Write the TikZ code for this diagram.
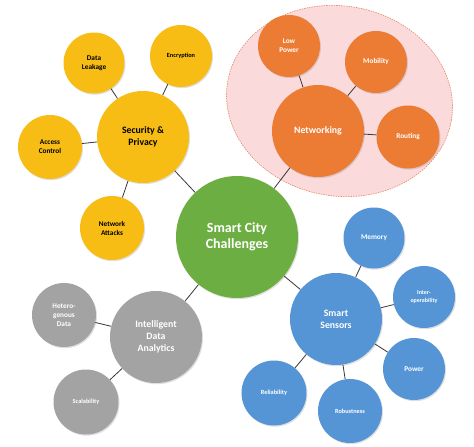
\documentclass[tikz,border=0pt]{standalone}
\usepackage{fontspec}
\setmainfont{Carlito}
\usetikzlibrary{shadows,shapes.geometric}
\definecolor{cyel}{HTML}{F8BD14}
\definecolor{corg}{HTML}{EC7B33}
\definecolor{cgrn}{HTML}{6DAE42}
\definecolor{cblu}{HTML}{5595D6}
\definecolor{cgry}{HTML}{A3A3A3}
\definecolor{cpink}{HTML}{FBDADB}
\definecolor{cpinkb}{HTML}{E58A64}
\definecolor{clink}{HTML}{383838}
\tikzset{
  bub/.style={circle,inner sep=0pt,minimum size=#1,align=center,
    drop shadow={opacity=0.25,shadow xshift=1pt,shadow yshift=-1.2pt}},
  fbig/.style={font=\fontsize{14}{16}\selectfont\bfseries},
  fmid/.style={font=\fontsize{9.8}{12}\selectfont\bfseries},
  fsm/.style={font=\fontsize{7.3}{9}\selectfont\bfseries},
  fxs/.style={font=\fontsize{6.3}{8}\selectfont\bfseries},
  yel/.style={fill=cyel,text=black},
  org/.style={fill=corg,text=white},
  grn/.style={fill=cgrn,text=white},
  blu/.style={fill=cblu,text=white},
  gry/.style={fill=cgry,text=white},
  link/.style={draw=clink,line width=0.8pt}
}
\begin{document}
\begin{tikzpicture}[x=1pt,y=-1pt]
\useasboundingbox[fill=white] (0,0) rectangle (474,447);
% networking group background
\node[ellipse,draw=cpinkb,fill=cpink,line width=0.6pt,dash pattern=on 1.5pt off 1pt,
  minimum width=227pt,minimum height=190pt,inner sep=0pt,rotate=-10] (grp) at (339.5,101) {};
% centre
\node[bub=122pt,grn,fbig] (c) at (237,237) {Smart City\\Challenges};
% security
\node[bub=92pt,yel,fmid] (sec) at (143,137) {Security \&\\Privacy};
\node[bub=61pt,yel,fsm] (dl) at (94,63) {Data\\Leakage};
\node[bub=62pt,yel,fxs] (enc) at (181,56) {Encryption};
\node[bub=64pt,yel,fsm] (ac) at (50,147) {Access\\Control};
\node[bub=64pt,yel,fsm] (na) at (112,228) {Network\\Attacks};
% networking
\node[bub=92pt,org,fmid] (net) at (318,131) {Networking};
\node[bub=62pt,org,fsm] (lp) at (289,46) {Low\\Power};
\node[bub=62pt,org,fsm] (mob) at (376,62) {Mobility};
\node[bub=63pt,org,fsm] (rout) at (408,137) {Routing};
% analytics
\node[bub=92pt,gry,fmid] (ida) at (156,337) {Intelligent\\Data\\Analytics};
\node[bub=64pt,gry,fsm] (het) at (64,315) {Hetero-\\genous\\Data};
\node[bub=65pt,gry,fxs] (sca) at (86,402) {Scalability};
% sensors
\node[bub=92pt,blu,fmid] (ss) at (336,319) {Smart\\Sensors};
\node[bub=61pt,blu,fsm] (mem) at (374,238) {Memory};
\node[bub=62pt,blu,font=\fontsize{6}{7.5}\selectfont\bfseries] (io) at (424,297) {Inter-\\operability};
\node[bub=62pt,blu,fsm] (pow) at (414,369) {Power};
\node[bub=64pt,blu,fxs] (rob) at (350,411) {Robustness};
\node[bub=65pt,blu,fxs] (rel) at (274,393) {Reliability};
% connectors
\draw[link] (c) -- (sec);
\draw[link] (c) -- (net);
\draw[link] (c) -- (ida);
\draw[link] (c) -- (ss);
\draw[link] (sec) -- (dl);
\draw[link] (sec) -- (enc);
\draw[link] (sec) -- (ac);
\draw[link] (sec) -- (na);
\draw[link] (net) -- (lp);
\draw[link] (net) -- (mob);
\draw[link] (net) -- (rout);
\draw[link] (ida) -- (het);
\draw[link] (ida) -- (sca);
\draw[link] (ss) -- (mem);
\draw[link] (ss) -- (io);
\draw[link] (ss) -- (pow);
\draw[link] (ss) -- (rob);
\draw[link] (ss) -- (rel);
\end{tikzpicture}
\end{document}
